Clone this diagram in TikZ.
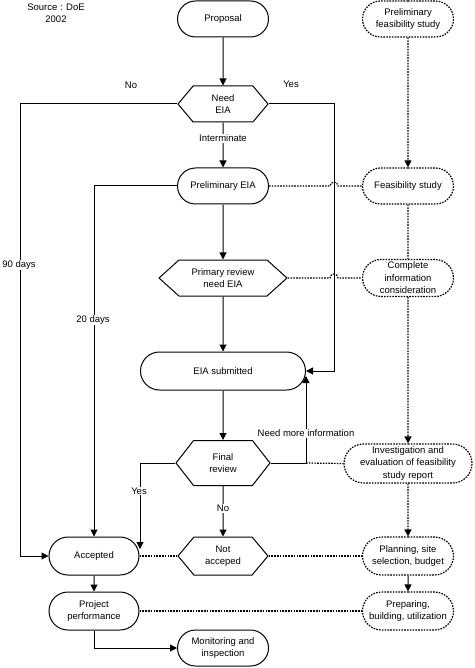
\documentclass[tikz,border=0pt]{standalone}
\usepackage{fontspec}
\setmainfont{Liberation Sans}
\usetikzlibrary{arrows.meta,positioning,shapes.misc,shapes.symbols}

\begin{document}
\begin{tikzpicture}[x=1pt,y=-1pt,
  font=\fontsize{9.5}{12.5}\selectfont,
  term/.style={draw,line width=1pt,rounded rectangle,minimum width=93pt,minimum height=36pt,inner sep=1pt,align=center},
  dterm/.style={term,dash pattern=on 1.6pt off 1.2pt,line width=1.2pt},
  hexa/.style={draw,line width=1pt,signal,signal to=west and east,signal pointer angle=100,minimum width=90pt,minimum height=36pt,inner sep=1pt,align=center},
  arr/.style={-{Triangle[length=7pt,width=7pt]},line width=1pt},
  dln/.style={dash pattern=on 1.6pt off 1.2pt,line width=1.2pt},
  darr/.style={dln,-{Triangle[length=7pt,width=7pt]}},
  lbl/.style={fill=white,inner sep=1pt}
]
\useasboundingbox (0,0) rectangle (474,668);

% main column
\node[term] (prop) at (223,19) {Proposal};
\node[hexa] (need) at (223,104) {Need\\EIA};
\node[term] (pre) at (223,186) {Preliminary EIA};
\node[hexa,minimum width=128pt,signal pointer angle=84] (prim) at (223,278) {Primary review\\need EIA};
\node[term,minimum width=167pt,minimum height=38pt] (sub) at (223,371) {EIA submitted};
\node[hexa,minimum width=94pt,minimum height=45pt,signal pointer angle=104] (fin) at (223,463) {Final\\review};
\node[hexa,minimum height=38pt] (not) at (223,556) {Not\\acceped};
\node[term,minimum width=92pt,minimum height=38pt] (acc) at (94,556) {Accepted};
\node[term,minimum width=92pt,minimum height=38pt] (proj) at (94,611) {Project\\performance};
\node[term] (mon) at (223,648) {Monitoring and\\inspection};

% feasibility column
\node[dterm] (pfs) at (408,19) {Preliminary\\feasibility study};
\node[dterm] (fs) at (408,186) {Feasibility study};
\node[dterm,minimum height=37pt] (cic) at (408,278) {Complete\\information\\consideration};
\node[dterm,minimum width=130pt,minimum height=39pt] (inv) at (408,463.5) {Investigation and\\evaluation of feasibility\\study report};
\node[dterm,minimum height=38pt] (plan) at (408,556) {Planning, site\\selection, budget};
\node[dterm,minimum height=38pt] (prep) at (408,611) {Preparing,\\building, utilization};

\node[align=center] (src) at (56,13) {Source : DoE\\2002};

\coordinate (c90) at (20,556);
\coordinate (cy) at (334,371);
\coordinate (ca) at (140,549);
\coordinate (cm) at (306,376);

% solid flow
\draw[arr] (prop) -- (need);
\draw[arr] (need) -- node[lbl,pos=0.35] (int) {Interminate} (pre);
\draw[arr] (pre) -- (prim);
\draw[arr] (prim) -- (sub);
\draw[arr] (sub) -- (fin);
\draw[arr] (fin) -- node[lbl,pos=0.45] (no2) {No} (not);
\draw[arr] (acc) -- (proj);
\draw[arr] (proj.south) |- (mon.west);
\draw[arr] (plan) -- (prep);
\draw[arr] (need.west) -| (c90) -- (acc.west);
\draw[arr] (need.east) -| (cy) -- (sub.east);
\draw[arr] (pre.west) -| (acc.north);
\draw[arr] (fin.west) -| (ca);
\draw[arr] (fin.east) -| node[lbl,pos=0.67] (nmi) {Need more information} (cm);

\node (no1) at (131,85) {No};
\node (yes1) at (291,84) {Yes};
\node[lbl] (d90) at (19,265) {90 days};
\node[lbl] (d20) at (93,320) {20 days};
\node[lbl] (yes2) at (139,491) {Yes};

% dotted links
\draw[darr] (pfs) -- (fs);
\draw[dln] (fs) -- (cic);
\draw[darr] (cic) -- (inv);
\draw[darr] (inv) -- (plan);
\draw[dln] (pre.east) -- (330,186) arc[start angle=180,end angle=0,radius=4pt] -- (fs.west);
\draw[dln] (prim.east) -- (330,278) arc[start angle=180,end angle=0,radius=4pt] -- (cic.west);
\draw[dln] (cm |- fin.east) -- (inv.west);
\draw[dln] (acc.east) -- (not.west);
\draw[dln] (not.east) -- (plan.west);
\draw[dln] (proj.east) -- (prep.west);
\end{tikzpicture}
\end{document}
